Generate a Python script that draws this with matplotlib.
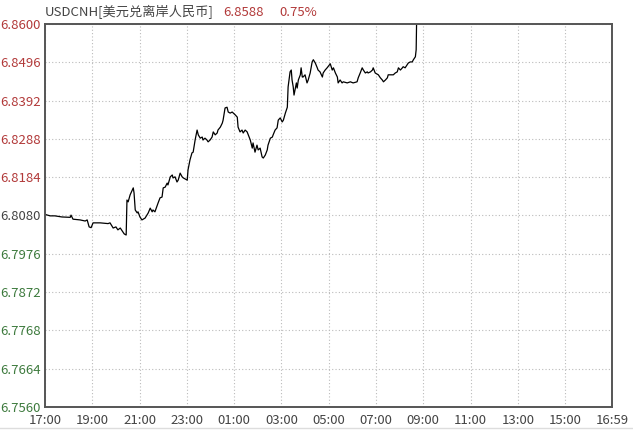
import matplotlib
matplotlib.use("Agg")
import matplotlib.pyplot as plt
import numpy as np

plt.rcParams['font.family'] = ['Noto Sans CJK SC', 'DejaVu Sans']

# minutes after 17:00 and price
minutes = [0, 13, 25, 43, 64, 66, 71, 89, 102, 107, 112, 117, 122, 140, 160, 165, 170, 173, 180, 185,
           191, 196, 201, 206, 208, 211, 216, 224, 226, 229, 234, 236, 241, 246, 254, 262, 267, 272, 274, 279,
           287, 292, 297, 300, 305, 310, 312, 318, 323, 325, 330, 335, 338, 343, 348, 351, 361, 363, 368, 373,
           376, 381, 386, 389, 394, 399, 401, 406, 411, 414, 419, 424, 427, 432, 437, 439, 445, 450, 452, 457,
           462, 465, 470, 475, 478, 483, 488, 490, 495, 500, 503, 508, 513, 516, 521, 526, 528, 533, 538, 541,
           546, 551, 554, 559, 564, 566, 572, 577, 579, 584, 589, 592, 597, 602, 605, 610, 615, 617, 622, 625,
           627, 630, 632, 638, 640, 643, 648, 650, 653, 655, 660, 665, 668, 673, 678, 681, 686, 691, 693, 698,
           704, 706, 711, 716, 724, 729, 732, 737, 742, 744, 749, 754, 757, 767, 775, 782, 792, 795, 800, 805,
           808, 813, 818, 820, 826, 831, 833, 838, 846, 851, 856, 859, 864, 869, 871, 876, 884, 889, 894, 897,
           902, 907, 909, 914, 919, 922, 927, 932, 935, 940, 942, 943]
price = [6.8083, 6.8079, 6.8079, 6.8076, 6.8075, 6.8081, 6.8070, 6.8068, 6.8065, 6.8068, 6.8049, 6.8047,
         6.8060, 6.8060, 6.8058, 6.8060, 6.8051, 6.8046, 6.8049, 6.8041, 6.8046, 6.8038, 6.8030, 6.8027,
         6.8122, 6.8117, 6.8136, 6.8155, 6.8141, 6.8095, 6.8087, 6.8090, 6.8076, 6.8068, 6.8073, 6.8087,
         6.8100, 6.8090, 6.8095, 6.8090, 6.8114, 6.8128, 6.8130, 6.8155, 6.8157, 6.8168, 6.8163, 6.8185,
         6.8190, 6.8182, 6.8185, 6.8171, 6.8176, 6.8195, 6.8185, 6.8182, 6.8176, 6.8204, 6.8231, 6.8250,
         6.8252, 6.8285, 6.8312, 6.8299, 6.8290, 6.8293, 6.8285, 6.8290, 6.8285, 6.8280, 6.8285, 6.8293,
         6.8307, 6.8299, 6.8304, 6.8312, 6.8320, 6.8331, 6.8339, 6.8372, 6.8374, 6.8361, 6.8358, 6.8361,
         6.8358, 6.8353, 6.8347, 6.8320, 6.8307, 6.8312, 6.8304, 6.8312, 6.8307, 6.8299, 6.8285, 6.8263,
         6.8277, 6.8252, 6.8271, 6.8258, 6.8263, 6.8239, 6.8236, 6.8244, 6.8258, 6.8271, 6.8290, 6.8293,
         6.8299, 6.8312, 6.8318, 6.8339, 6.8345, 6.8334, 6.8339, 6.8358, 6.8374, 6.8429, 6.8470, 6.8475,
         6.8448, 6.8429, 6.8407, 6.8440, 6.8426, 6.8448, 6.8462, 6.8481, 6.8456, 6.8456, 6.8462, 6.8440,
         6.8448, 6.8467, 6.8497, 6.8503, 6.8494, 6.8481, 6.8475, 6.8470, 6.8456, 6.8467, 6.8475, 6.8481,
         6.8492, 6.8475, 6.8481, 6.8467, 6.8456, 6.8440, 6.8448, 6.8440, 6.8443, 6.8440, 6.8443, 6.8440,
         6.8443, 6.8454, 6.8467, 6.8481, 6.8475, 6.8467, 6.8470, 6.8467, 6.8470, 6.8475, 6.8481, 6.8467,
         6.8462, 6.8454, 6.8448, 6.8443, 6.8448, 6.8454, 6.8462, 6.8462, 6.8462, 6.8467, 6.8470, 6.8481,
         6.8475, 6.8481, 6.8484, 6.8481, 6.8489, 6.8494, 6.8497, 6.8497, 6.8503, 6.8511, 6.8530, 6.8598]

y_ticks = [6.8600, 6.8496, 6.8392, 6.8288, 6.8184, 6.8080, 6.7976, 6.7872, 6.7768, 6.7664, 6.7560]
x_ticks = [0, 120, 240, 360, 480, 600, 720, 840, 960, 1080, 1200, 1320, 1439]
x_labels = ["17:00", "19:00", "21:00", "23:00", "01:00", "03:00", "05:00", "07:00",
            "09:00", "11:00", "13:00", "15:00", "16:59"]
prev_close = 6.8080

RED = "#b23a3a"
GREEN = "#3d7a3d"
GREY = "#444444"

fig = plt.figure(figsize=(6.33, 4.30), dpi=100)
ax = fig.add_axes([0.0711, 0.0535, 0.8957, 0.8907])

ax.plot(minutes, price, color="black", linewidth=0.9)

ax.set_xlim(0, 1439)
ax.set_ylim(6.7560, 6.8600)
ax.set_yticks(y_ticks)
ax.set_yticklabels(["%.4f" % v for v in y_ticks])
ax.set_xticks(x_ticks)
ax.set_xticklabels(x_labels)
ax.tick_params(length=0, labelsize=9.5, pad=3)
ax.tick_params(axis="x", colors=GREY, pad=5)

for lbl, v in zip(ax.get_yticklabels(), y_ticks):
    if v > prev_close + 1e-9:
        lbl.set_color(RED)
    elif v < prev_close - 1e-9:
        lbl.set_color(GREEN)
    else:
        lbl.set_color(GREY)

ax.grid(True, linestyle=(0, (1, 2)), color="#bbbbbb", linewidth=0.8)
for s in ax.spines.values():
    s.set_color("#555555")
    s.set_linewidth(1.4)

fig.text(0.0711, 0.972, "USDCNH[美元兑离岸人民币]", color=GREY, fontsize=9.5, va="center")
fig.text(0.353, 0.972, "6.8588", color=RED, fontsize=9.5, va="center")
fig.text(0.442, 0.972, "0.75%", color=RED, fontsize=9.5, va="center")

fig.add_artist(plt.Line2D([0, 1], [0.004, 0.004], color="#dddddd", linewidth=1))

fig.savefig("out.png", dpi=100)
